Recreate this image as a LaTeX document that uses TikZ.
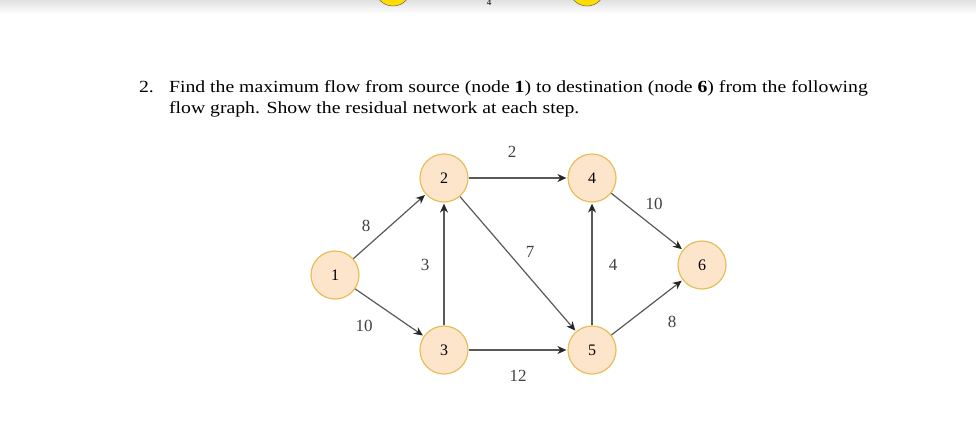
\documentclass[tikz,border=0pt]{standalone}
\usepackage{fontspec}
\setmainfont{Liberation Serif}
\usetikzlibrary{arrows.meta}
\begin{document}
\begin{tikzpicture}[x=1pt,y=-1pt,
  vnode/.style={circle,draw={rgb,255:red,230;green,190;blue,90},fill={rgb,255:red,253;green,229;blue,204},line width=1.2pt,minimum size=48pt,inner sep=0pt,font=\fontsize{16}{18}\selectfont},
  edge/.style={draw=black!65,line width=1.2pt,-{Stealth[length=9pt,width=8pt,color=black!85]},shorten >=1pt},
  lbl/.style={font=\fontsize{17}{19}\selectfont,text=black!75},
  qtext/.style={anchor=base west,font=\fontsize{17}{20}\selectfont,xscale=1.16,transform shape}]
\useasboundingbox (0,0) rectangle (976,437);
\fill[top color=black!12,bottom color=white] (0,0) rectangle (976,14);
\fill[yellow!80!orange,draw=black!70] (393,-12) circle (18);
\fill[yellow!80!orange,draw=black!70] (587,-12) circle (18);
\node[font=\fontsize{9}{10}\selectfont] (t4) at (489,3) {4};
\node[qtext] (n2) at (135,92) {2.};
\node[qtext] (l1) at (165,92) {Find the maximum flow from source (node \textbf{1}) to destination (node \textbf{6}) from the following};
\node[qtext] (l2) at (165,113) {flow graph. Show the residual network at each step.};
\node[vnode] (a1) at (335,275) {1};
\node[vnode] (a2) at (444,178) {2};
\node[vnode] (a3) at (444,350) {3};
\node[vnode] (a4) at (592,178) {4};
\node[vnode] (a5) at (592,350) {5};
\node[vnode] (a6) at (702,265) {6};
\draw[edge] (a1) -- (a2);
\draw[edge] (a1) -- (a3);
\draw[edge] (a3) -- (a2);
\draw[edge] (a2) -- (a4);
\draw[edge] (a2) -- (a5);
\draw[edge] (a5) -- (a4);
\draw[edge] (a4) -- (a6);
\draw[edge] (a5) -- (a6);
\draw[edge] (a3) -- (a5);
\node[lbl] (w12) at (366,226) {8};
\node[lbl] (w13) at (364,326) {10};
\node[lbl] (w32) at (425,265) {3};
\node[lbl] (w24) at (512,152) {2};
\node[lbl] (w25) at (530,252) {7};
\node[lbl] (w54) at (613,265) {4};
\node[lbl] (w46) at (654,204) {10};
\node[lbl] (w56) at (672,322) {8};
\node[lbl] (w35) at (518,376) {12};
\end{tikzpicture}
\end{document}
